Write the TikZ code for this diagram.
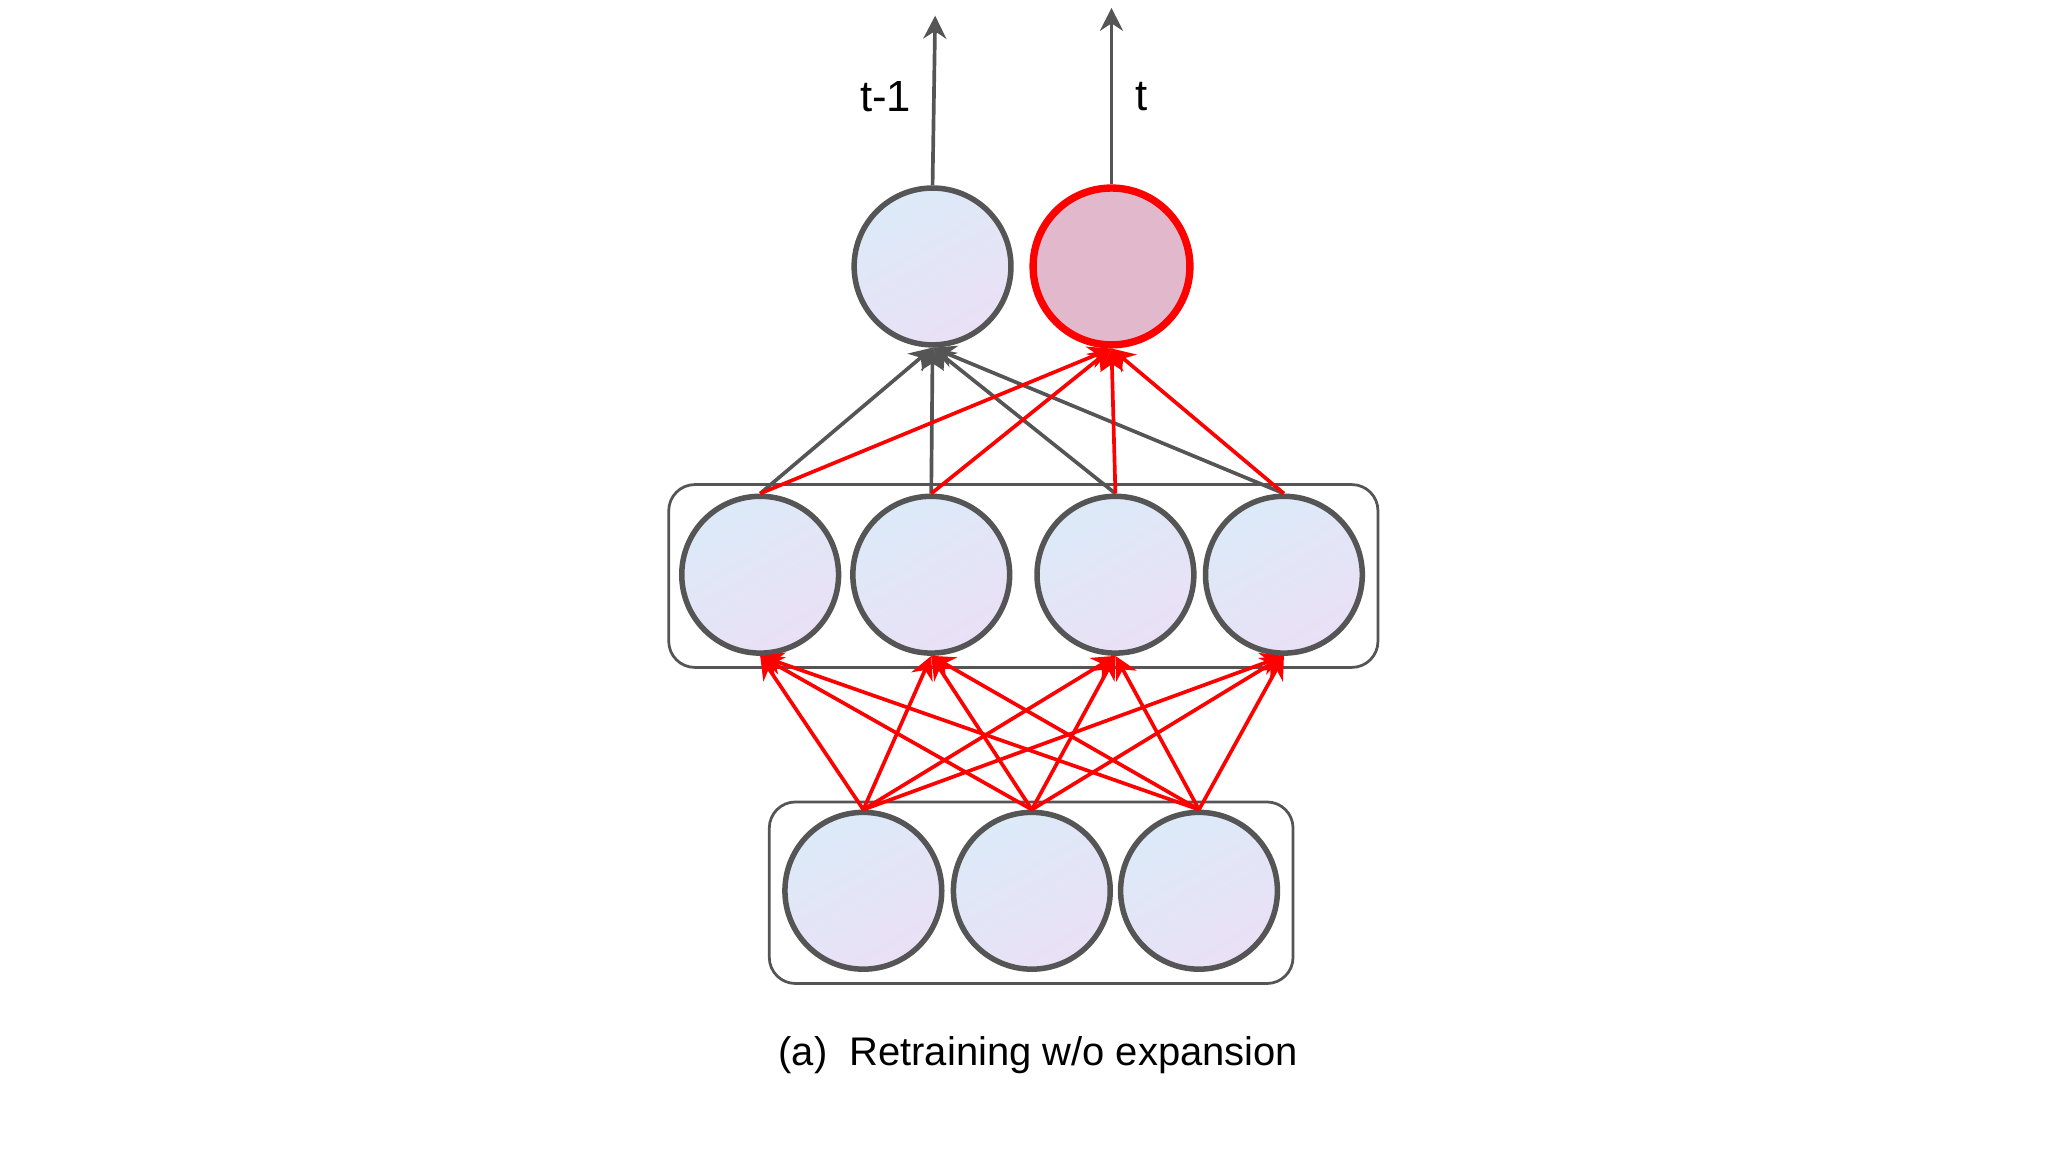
\documentclass[tikz,border=0pt]{standalone}
\usepackage{fontspec}
\setmainfont{Liberation Sans}
\usetikzlibrary{arrows.meta}
\definecolor{edgegray}{HTML}{555555}
\definecolor{nodeA}{HTML}{DCEAF8}
\definecolor{nodeB}{HTML}{EAE0F6}
\begin{document}
\begin{tikzpicture}[x=0.01cm,y=-0.01cm,
  neuron/.style={circle,draw=edgegray,line width=1.2pt,minimum size=1.2cm,inner sep=0pt,top color=nodeA,bottom color=nodeB,shading angle=30},
  redneuron/.style={circle,draw=red,line width=1.6pt,minimum size=1.2cm,inner sep=0pt,fill={rgb,255:red,226;green,184;blue,204}},
  box/.style={draw=edgegray,line width=0.6pt,rounded corners=0.2cm},
  g/.style={draw=edgegray,line width=0.8pt,-{Stealth[length=5pt,width=5pt]}},
  r/.style={draw=red,line width=0.8pt,-{Stealth[length=5pt,width=5pt]}},
  lab/.style={font=\fontsize{9.5}{11}\selectfont}]
\useasboundingbox (0,0) rectangle (1568,882);
\draw[box] (512,371) rectangle (1055,511);
\draw[box] (589,614) rectangle (990,753);
\node[neuron] (a) at (714,204) {};
\node[redneuron] (b) at (851,204) {};
\node[neuron] (m1) at (582,440) {};
\node[neuron] (m2) at (713,440) {};
\node[neuron] (m3) at (854,440) {};
\node[neuron] (m4) at (983,440) {};
\node[neuron] (i1) at (661,682) {};
\node[neuron] (i2) at (790,682) {};
\node[neuron] (i3) at (918,682) {};
\coordinate (oa) at (716,12);
\coordinate (ob) at (851,6);
\draw[g] (a.north) -- (oa);
\draw[g] (b.north) -- (ob);
\node[lab] (la) at (678,74) {t-1};
\node[lab] (lb) at (874,74) {t};
\foreach \m in {m1,m2,m3,m4}{
  \draw[g] (\m.north) -- (a.south);
}
\foreach \m in {m1,m2,m3,m4}{
  \draw[r] (\m.north) -- (b.south);
}
\foreach \i in {i1,i2,i3}{
  \foreach \m in {m1,m2,m3,m4}{
    \draw[r] (\i.north) -- (\m.south);
  }
}
\node[font=\fontsize{8.7}{10}\selectfont] (cap) at (795,808) {(a)\ \ Retraining w/o expansion};
\end{tikzpicture}
\end{document}
